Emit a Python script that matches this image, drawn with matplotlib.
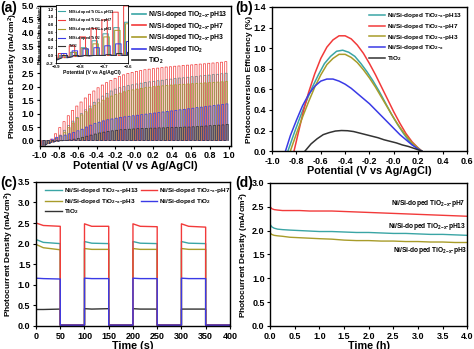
import matplotlib
matplotlib.use('Agg')
import matplotlib.pyplot as plt
import numpy as np

plt.rcParams['font.family'] = 'Liberation Sans'
plt.rcParams['font.weight'] = 'bold'
plt.rcParams['axes.labelweight'] = 'bold'
plt.rcParams['mathtext.fontset'] = 'custom'
plt.rcParams['mathtext.rm'] = 'Liberation Sans:bold'
plt.rcParams['mathtext.bf'] = 'Liberation Sans:bold'
plt.rcParams['mathtext.default'] = 'bf'
plt.rcParams['axes.linewidth'] = 1.0

# colours / labels
c13, c7, c3, cni, cti = '#3aa5a5', '#f23a3a', '#a89c2a', '#3a3ae6', '#333333'
lab13 = r'Ni/Si-doped TiO$_{2{-}x}$-pH13'
lab7 = r'Ni/Si-doped TiO$_{2{-}x}$-pH7'
lab3 = r'Ni/Si-doped TiO$_{2{-}x}$-pH3'
lab_ni = r'Ni/Si-doped TiO$_2$'
lab_nix = r'Ni/Si-doped TiO$_{2{-}x}$'
lab_ti = r'TiO$_2$'

# ---- (a) chopped LSV: light-on current at each pulse (mA/cm2)
pulse_V = np.round(np.arange(-0.98, 0.96, 0.045), 3)   # 44 pulse onsets
dark_a = [-0.18, -0.12, -0.06, -0.03, -0.01] + [0.0] * 39
a_pH7 = [0, 0, 0.05, 0.25, 0.48, 0.7, 0.92, 1.12, 1.28, 1.43, 1.58, 1.72, 1.84, 1.96, 2.06,
         2.15, 2.23, 2.31, 2.38, 2.44, 2.49, 2.53, 2.57, 2.6, 2.63, 2.65, 2.67, 2.69, 2.71,
         2.73, 2.74, 2.76, 2.77, 2.79, 2.8, 2.81, 2.83, 2.84, 2.85, 2.87, 2.88, 2.89, 2.91, 2.93]
a_pH13 = [0, 0, 0, 0.08, 0.2, 0.38, 0.56, 0.72, 0.86, 1.0, 1.14, 1.28, 1.42, 1.54, 1.65,
          1.75, 1.84, 1.91, 1.96, 2.0, 2.04, 2.07, 2.1, 2.13, 2.16, 2.18, 2.2, 2.22, 2.24,
          2.26, 2.28, 2.3, 2.32, 2.33, 2.35, 2.37, 2.38, 2.4, 2.42, 2.43, 2.45, 2.46, 2.48, 2.5]
a_pH3 = [0, 0, 0, 0.08, 0.18, 0.3, 0.48, 0.65, 0.82, 0.95, 1.07, 1.18, 1.3, 1.4, 1.5,
         1.58, 1.65, 1.71, 1.76, 1.81, 1.85, 1.88, 1.91, 1.94, 1.96, 1.98, 2.0, 2.02, 2.03,
         2.05, 2.06, 2.07, 2.08, 2.09, 2.1, 2.11, 2.12, 2.13, 2.14, 2.15, 2.16, 2.17, 2.18, 2.19]
a_ni = [0, 0, 0.05, 0.12, 0.17, 0.2, 0.25, 0.3, 0.36, 0.42, 0.5, 0.57, 0.63, 0.68, 0.73,
        0.77, 0.8, 0.83, 0.86, 0.88, 0.9, 0.92, 0.94, 0.96, 0.98, 1.0, 1.02, 1.04, 1.06,
        1.08, 1.1, 1.12, 1.14, 1.16, 1.18, 1.2, 1.22, 1.24, 1.26, 1.28, 1.3, 1.32, 1.34, 1.36]
a_ti = [0, 0, 0, 0, 0, 0, 0.02, 0.05, 0.08, 0.12, 0.16, 0.2, 0.24, 0.28, 0.31,
        0.34, 0.36, 0.38, 0.4, 0.41, 0.42, 0.43, 0.44, 0.45, 0.45, 0.46, 0.46, 0.47, 0.47,
        0.48, 0.48, 0.49, 0.49, 0.5, 0.5, 0.51, 0.52, 0.53, 0.54, 0.55, 0.56, 0.57, 0.58, 0.6]

# ---- (b) photoconversion efficiency
b_V7 = [-0.82, -0.78, -0.74, -0.70, -0.65, -0.60, -0.55, -0.50, -0.45, -0.40, -0.35, -0.30,
        -0.25, -0.20, -0.15, -0.10, -0.05, 0.0, 0.05, 0.10, 0.15, 0.20, 0.23]
b_pH7 = [0, 0.2, 0.4, 0.57, 0.75, 0.9, 1.01, 1.08, 1.12, 1.12, 1.09, 1.03,
         0.95, 0.85, 0.74, 0.62, 0.5, 0.38, 0.27, 0.17, 0.09, 0.03, 0.0]
b_V13 = [-0.87, -0.82, -0.77, -0.72, -0.67, -0.62, -0.57, -0.52, -0.47, -0.42, -0.37, -0.32,
         -0.27, -0.22, -0.17, -0.12, -0.07, -0.02, 0.03, 0.08, 0.13, 0.18, 0.23]
b_pH13 = [0, 0.17, 0.33, 0.48, 0.62, 0.74, 0.85, 0.92, 0.97, 0.98, 0.96, 0.92,
          0.85, 0.77, 0.68, 0.58, 0.47, 0.36, 0.26, 0.17, 0.09, 0.04, 0.0]
b_V3 = [-0.85, -0.80, -0.75, -0.70, -0.65, -0.60, -0.55, -0.50, -0.45, -0.40, -0.35, -0.30,
        -0.25, -0.20, -0.15, -0.10, -0.05, 0.0, 0.05, 0.10, 0.15, 0.20, 0.23]
b_pH3 = [0, 0.17, 0.33, 0.48, 0.62, 0.74, 0.84, 0.9, 0.94, 0.94, 0.91, 0.86,
         0.79, 0.71, 0.62, 0.52, 0.42, 0.32, 0.23, 0.15, 0.08, 0.03, 0.0]
b_Vni = [-0.89, -0.85, -0.80, -0.75, -0.70, -0.65, -0.60, -0.55, -0.50, -0.45, -0.40, -0.35,
         -0.30, -0.25, -0.20, -0.15, -0.10, -0.05, 0.0, 0.05, 0.10, 0.15, 0.20, 0.23]
b_ni = [0, 0.15, 0.3, 0.44, 0.55, 0.63, 0.68, 0.7, 0.7, 0.68, 0.65, 0.61,
        0.56, 0.51, 0.46, 0.4, 0.34, 0.28, 0.22, 0.16, 0.11, 0.06, 0.02, 0.0]
b_Vti = [-0.73, -0.68, -0.63, -0.58, -0.53, -0.48, -0.43, -0.38, -0.33, -0.28, -0.23, -0.18,
         -0.13, -0.08, -0.03, 0.02, 0.07, 0.12, 0.17, 0.23]
b_ti = [0, 0.07, 0.12, 0.16, 0.18, 0.195, 0.2, 0.198, 0.19, 0.175, 0.16, 0.145,
        0.13, 0.11, 0.095, 0.08, 0.06, 0.045, 0.025, 0.0]

# ---- (c) chopped i-t: onset spike, value 15 s later, value at light-off
on_t = [0, 100, 200, 300]
c_dark = 0.02
c_pH7 = dict(spike=[2.50, 2.48, 2.48, 2.48], mid=[2.44, 2.42, 2.42, 2.42], end=[2.42, 2.42, 2.41, 2.40])
c_pH13 = dict(spike=[2.10, 2.05, 2.05, 2.05], mid=[2.03, 2.01, 2.01, 2.01], end=[2.0, 2.0, 2.0, 2.0])
c_pH3 = dict(spike=[1.98, 1.88, 1.88, 1.88], mid=[1.90, 1.86, 1.86, 1.86], end=[1.85, 1.86, 1.86, 1.86])
c_ni = dict(spike=[1.16, 1.16, 1.16, 1.16], mid=[1.15, 1.15, 1.15, 1.15], end=[1.14, 1.15, 1.15, 1.15])
c_ti = dict(spike=[0.40, 0.42, 0.42, 0.41], mid=[0.40, 0.41, 0.41, 0.41], end=[0.41, 0.42, 0.41, 0.41])

# ---- (d) stability
d_t = [0.0, 0.03, 0.08, 0.15, 0.25, 0.4, 0.6, 0.8, 1.0, 1.25, 1.5, 1.75, 2.0, 2.25, 2.5,
       2.75, 3.0, 3.25, 3.5, 3.75, 4.0]
d_pH7 = [2.50, 2.46, 2.44, 2.43, 2.42, 2.42, 2.42, 2.41, 2.41, 2.41, 2.40, 2.39, 2.38, 2.37,
         2.36, 2.35, 2.34, 2.33, 2.32, 2.31, 2.30]
d_pH13 = [2.13, 2.08, 2.05, 2.03, 2.02, 2.01, 2.00, 1.99, 1.98, 1.98, 1.97, 1.96, 1.96, 1.95,
          1.94, 1.94, 1.93, 1.92, 1.92, 1.91, 1.90]
d_pH3 = [1.95, 1.92, 1.90, 1.89, 1.88, 1.86, 1.85, 1.84, 1.83, 1.82, 1.80, 1.79, 1.79, 1.78,
         1.78, 1.77, 1.77, 1.76, 1.76, 1.75, 1.75]

XL, YL, TK = 7.8, 6.0, 6.5


def chop(light, shift):
    half = 0.0225
    xs, ys = [], []
    for i, v in enumerate(pulse_V):
        on = max(light[i], dark_a[i])
        x0 = v + shift
        xs += [x0, x0, x0 + half, x0 + half]
        ys += [dark_a[i], on, on, dark_a[i]]
    return xs, ys


def chop_t(d):
    xs, ys = [], []
    for k, t0 in enumerate(on_t):
        xs += [t0, t0, t0 + 15, t0 + 50, t0 + 50]
        ys += [c_dark, d['spike'][k], d['mid'][k], d['end'][k], c_dark]
    xs.append(400)
    ys.append(c_dark)
    return xs, ys


def style(ax, fs=TK):
    ax.tick_params(direction='out', length=2.5, width=0.8, labelsize=fs, pad=1.5)
    for lab in ax.get_xticklabels() + ax.get_yticklabels():
        lab.set_fontweight('bold')


fig = plt.figure(figsize=(4.74, 3.49), dpi=100)

# (a)
ax = fig.add_axes([0.084, 0.582, 0.403, 0.401])
series_a = [(a_pH13, c13, lab13, 0.004), (a_pH7, c7, lab7, 0.0), (a_pH3, c3, lab3, 0.008),
            (a_ni, cni, lab_ni, 0.012), (a_ti, cti, lab_ti, 0.016)]
for vals, col, lab, sh in series_a:
    xs, ys = chop(vals, sh)
    ax.plot(xs, ys, color=col, lw=0.5, label=lab)
ax.set_xlim(-1.0, 1.02)
ax.set_ylim(-0.2, 5.0)
ax.set_xticks(np.arange(-1.0, 1.01, 0.2))
ax.set_xticklabels([f'{v:.1f}' for v in np.arange(-1.0, 1.01, 0.2)])
ax.set_yticks(np.arange(0, 5.01, 0.5))
ax.set_xlabel('Potential (V vs Ag/AgCl)', fontsize=XL, labelpad=0.5)
ax.set_ylabel('Photocurrent Density (mA/cm$^2$)', fontsize=YL, labelpad=1)
style(ax)
leg = ax.legend(loc='upper right', fontsize=4.9, frameon=False, handlelength=2.0,
                handletextpad=0.3, labelspacing=0.08, borderaxespad=0.1,
                bbox_to_anchor=(1.0, 1.0))
for l in leg.get_lines():
    l.set_linewidth(1.2)
fig.text(0.0, 0.997, '(a)', fontsize=10, fontweight='bold', va='top')

# inset
axi = fig.add_axes([0.118, 0.819, 0.153, 0.166])
for vals, col, lab, sh in series_a:
    xs, ys = chop(vals, sh)
    axi.plot(xs, ys, color=col, lw=0.7, label=lab)
axi.set_xlim(-0.9, -0.6)
axi.set_ylim(-0.2, 1.3)
axi.set_xticks([-0.9, -0.8, -0.7, -0.6])
axi.set_yticks(np.arange(-0.2, 1.21, 0.2))
axi.set_yticklabels([f'{v:.1f}' for v in np.arange(-0.2, 1.21, 0.2)])
axi.tick_params(direction='out', length=1.0, width=0.5, labelsize=3.2, pad=0.6)
for s in axi.spines.values():
    s.set_linewidth(0.6)
axi.set_xlabel('Potential (V vs Ag/AgCl)', fontsize=3.6, labelpad=0.5)
axi.set_ylabel('Photocurrent Density (mA/cm$^2$)', fontsize=2.9, labelpad=0.3)
legi = axi.legend(loc='upper left', fontsize=2.8, frameon=False, handlelength=1.8,
                  labelspacing=0.2, borderaxespad=0.2)
for l in legi.get_lines():
    l.set_linewidth(0.8)

# (b)
ax = fig.add_axes([0.574, 0.567, 0.411, 0.413])
ax.plot(b_V13, b_pH13, color=c13, lw=1.1, label=lab13)
ax.plot(b_V7, b_pH7, color=c7, lw=1.1, label=lab7)
ax.plot(b_V3, b_pH3, color=c3, lw=1.1, label=lab3)
ax.plot(b_Vni, b_ni, color=cni, lw=1.1, label=lab_nix)
ax.plot(b_Vti, b_ti, color=cti, lw=1.1, label=lab_ti)
ax.set_xlim(-1.0, 0.6)
ax.set_ylim(0, 1.4)
ax.set_xticks(np.arange(-1.0, 0.61, 0.2))
ax.set_xticklabels([f'{v:.1f}' for v in np.arange(-1.0, 0.61, 0.2)])
ax.set_yticks(np.arange(0, 1.41, 0.2))
ax.set_yticklabels([f'{v:.1f}' for v in np.arange(0, 1.41, 0.2)])
ax.set_xlabel('Potential (V vs Ag/AgCl)', fontsize=XL, labelpad=0.5)
ax.set_ylabel('Photoconversion Efficiency (%)', fontsize=YL, labelpad=1)
style(ax)
ax.legend(loc='upper right', fontsize=4.6, frameon=False, handlelength=2.4,
          handletextpad=0.4, labelspacing=0.25, borderaxespad=0.3)
fig.text(0.497, 0.997, '(b)', fontsize=10, fontweight='bold', va='top')

# (c)
ax = fig.add_axes([0.076, 0.066, 0.409, 0.413])
for d, col, lab in [(c_pH13, c13, lab13), (c_pH3, c3, lab3), (c_ti, cti, lab_ti),
                    (c_pH7, c7, lab7), (c_ni, cni, lab_ni)]:
    xs, ys = chop_t(d)
    ax.plot(xs, ys, color=col, lw=1.0, label=lab)
ax.set_xlim(0, 400)
ax.set_ylim(0, 3.5)
ax.set_xticks(np.arange(0, 401, 50))
ax.set_yticks(np.arange(0, 3.51, 0.5))
ax.set_yticklabels([f'{v:.1f}' for v in np.arange(0, 3.51, 0.5)])
ax.set_xlabel('Time (s)', fontsize=XL, labelpad=0)
ax.set_ylabel('Photocurrent Density (mA/cm$^2$)', fontsize=YL, labelpad=1)
style(ax)
ax.legend(loc='upper left', ncol=2, fontsize=4.6, frameon=False, handlelength=2.6,
          handletextpad=0.3, labelspacing=0.25, columnspacing=0.25,
          bbox_to_anchor=(0.025, 1.0), borderaxespad=0.3)
fig.text(0.0, 0.495, '(c)', fontsize=10, fontweight='bold', va='top')

# (d)
ax = fig.add_axes([0.570, 0.066, 0.416, 0.410])
ax.plot(d_t, d_pH7, color=c7, lw=1.0)
ax.plot(d_t, d_pH13, color=c13, lw=1.0)
ax.plot(d_t, d_pH3, color=c3, lw=1.0)
ax.text(3.95, 2.56, lab7, fontsize=4.8, ha='right', va='center')
ax.text(3.97, 2.09, lab13, fontsize=4.8, ha='right', va='center')
ax.text(3.99, 1.59, lab3, fontsize=4.8, ha='right', va='center')
ax.set_xlim(0, 4.0)
ax.set_ylim(0, 3.0)
ax.set_xticks(np.arange(0, 4.01, 0.5))
ax.set_xticklabels([f'{v:.1f}' for v in np.arange(0, 4.01, 0.5)])
ax.set_yticks(np.arange(0, 3.01, 0.5))
ax.set_yticklabels([f'{v:.1f}' for v in np.arange(0, 3.01, 0.5)])
ax.set_xlabel('Time (h)', fontsize=XL, labelpad=0)
ax.set_ylabel('Photocurrent Density (mA/cm$^2$)', fontsize=YL, labelpad=1)
style(ax)
fig.text(0.497, 0.495, '(d)', fontsize=10, fontweight='bold', va='top')

fig.savefig('out.png', dpi=100)
